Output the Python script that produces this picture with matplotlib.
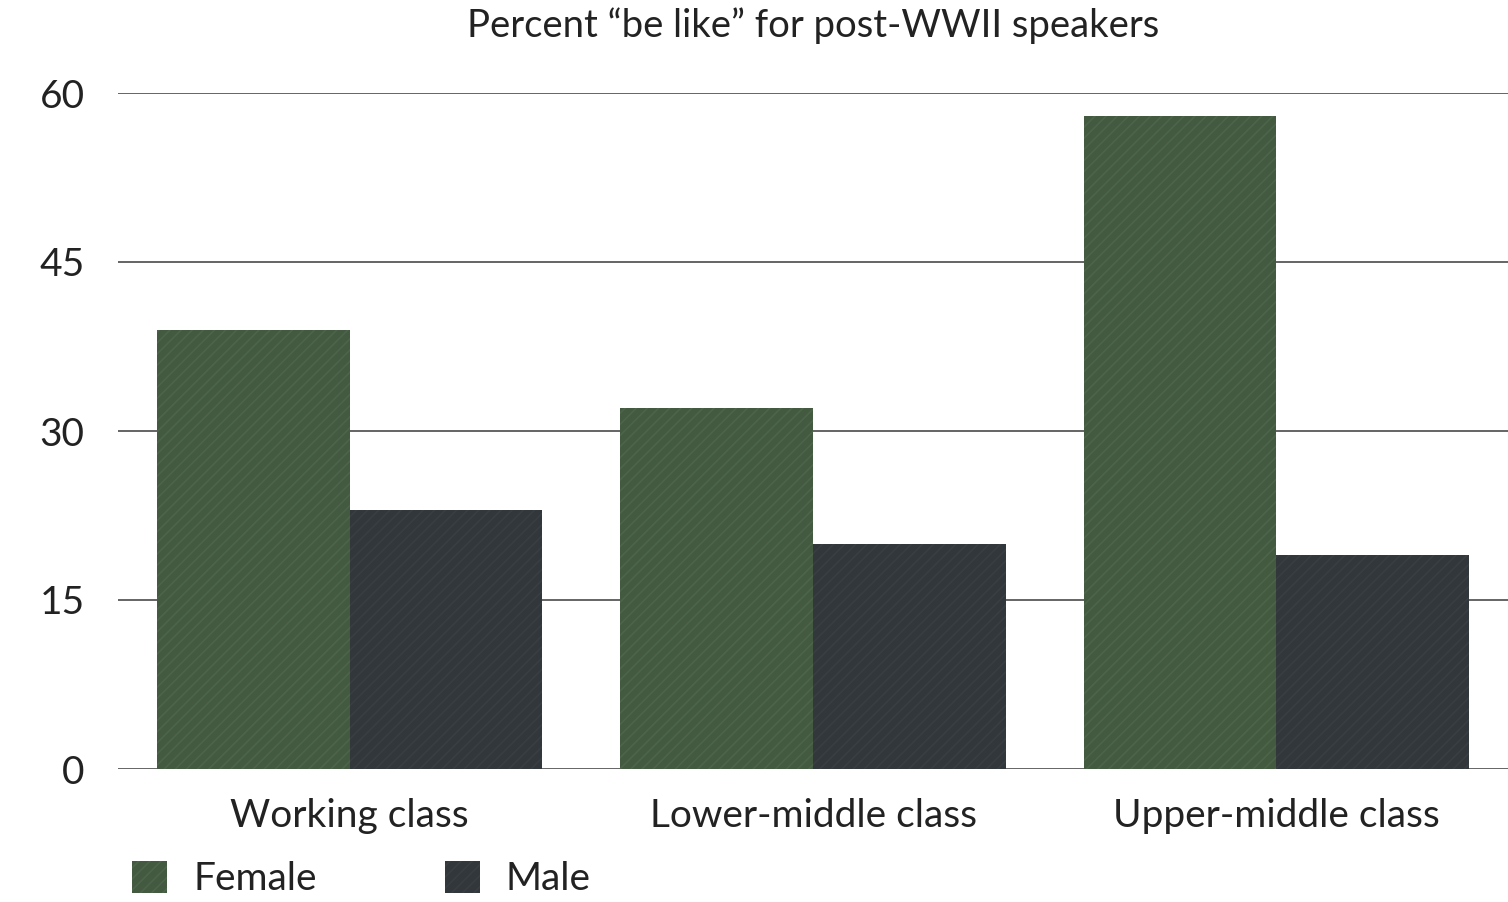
import matplotlib
matplotlib.use("Agg")
from matplotlib import pyplot as plt
import numpy as np

categories = ["Working class", "Lower-middle class", "Upper-middle class"]
female = [39, 32, 58]
male = [23, 20, 19]
yticks = [0, 15, 30, 45, 60]

plt.rcParams["font.family"] = ["Lato", "DejaVu Sans"]
plt.rcParams["hatch.linewidth"] = 1.2

green = "#435a41"
dark = "#31373a"
text_color = "#222222"

fig = plt.figure(figsize=(15.08, 9.02), dpi=100)
ax = fig.add_axes([118 / 1508, 1 - 769 / 902, 1 - 118 / 1508, (769 - 93) / 902])

x = np.arange(len(categories))
w = 0.416
ax.bar(x - w / 2, female, w, color=green, edgecolor="#4c644a", hatch="///",
       linewidth=0, label="Female", zorder=3)
ax.bar(x + w / 2, male, w, color=dark, edgecolor="#383e41", hatch="///",
       linewidth=0, label="Male", zorder=3)

ax.set_xlim(-0.5, 2.5)
ax.set_ylim(0, 60)
ax.set_yticks(yticks)
ax.set_yticklabels([str(t) for t in yticks])
ax.set_xticks(x)
ax.set_xticklabels(categories)
ax.tick_params(axis="both", length=0, labelsize=28, colors=text_color)
ax.tick_params(axis="y", pad=24)
ax.tick_params(axis="x", pad=21)
ax.yaxis.grid(True, color="#3a3a3a", linewidth=1.1, zorder=1)
ax.set_axisbelow(True)
for s in ax.spines.values():
    s.set_visible(False)

ax.set_title("Percent \u201cbe like\u201d for post-WWII speakers", fontsize=27.5,
             color=text_color, pad=40)

leg = fig.legend(loc="center left", bbox_to_anchor=(132 / 1508, 1 - 879 / 902), ncol=2,
                 frameon=False, fontsize=28, handlelength=0.9, handleheight=0.9,
                 handletextpad=0.67, columnspacing=3.3, labelcolor=text_color,
                 borderpad=0, borderaxespad=0)

fig.savefig("out.png", dpi=100)
